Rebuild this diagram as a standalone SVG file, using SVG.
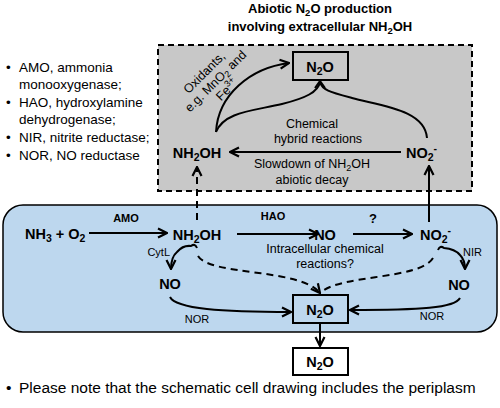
<svg xmlns="http://www.w3.org/2000/svg" width="500" height="408" viewBox="0 0 500 408">
<style>
text{font-family:"Liberation Sans",Arial,sans-serif;fill:#000}
.b{font-weight:bold}
.lbl{font-size:14.5px;font-weight:bold}
.sm{font-size:11px}
.body{font-size:12.5px}
.list{font-size:13.5px}
.ln{fill:none;stroke:#000;stroke-width:2}
.dash{stroke-dasharray:7 5}
.box{fill:none;stroke:#000;stroke-width:2}
</style>
<defs>
<marker id="ah" viewBox="0 0 12 12" refX="11" refY="6" markerWidth="12" markerHeight="12" markerUnits="userSpaceOnUse" orient="auto">
<path d="M2,1.5 L11,6 L2,10.5" fill="none" stroke="#000" stroke-width="2.2"/>
</marker>
</defs>
<rect width="500" height="408" fill="#fff"/>

<g id="title">
<text class="b" x="320" y="13" text-anchor="middle" font-size="13">Abiotic N<tspan font-size="9.5" dy="3">2</tspan><tspan dy="-3">O production</tspan></text>
<text class="b" x="320" y="31" text-anchor="middle" font-size="13">involving extracellular NH<tspan font-size="9.5" dy="3">2</tspan><tspan dy="-3">OH</tspan></text>
</g>

<g id="legend" class="list">
<text x="6" y="72">•</text><text x="19" y="72" class="list">AMO, ammonia</text>
<text x="19" y="89" class="list">monooxygenase;</text>
<text x="6" y="107">•</text><text x="19" y="107" class="list">HAO, hydroxylamine</text>
<text x="19" y="124" class="list">dehydrogenase;</text>
<text x="6" y="142">•</text><text x="19" y="142" class="list">NIR, nitrite reductase;</text>
<text x="6" y="160">•</text><text x="19" y="160" class="list">NOR, NO reductase</text>
</g>

<g id="abiotic-zone">
<rect x="158" y="45" width="314" height="146" fill="#c8c8c8" stroke="#000" stroke-width="2" stroke-dasharray="6 4"/>
</g>

<g id="cell">
<rect x="3" y="205" width="494" height="127" rx="20" ry="20" fill="#bdd7ee" stroke="#000" stroke-width="1.5"/>
</g>

<g id="connectors">
<path class="ln" d="M216,132 C218,95 250,68 289,63" marker-end="url(#ah)"/>
<path class="ln" d="M216,132 C224,112 252,111 282,104 C306,98 318,92 320,82"/>
<path class="ln" d="M427,138 C425,110 382,106 352,98 C330,92 322,90 320,82"/>
<path class="ln" d="M315,88 L320,81 L325,88"/>
<path class="ln" d="M401,152 L230,152" marker-end="url(#ah)"/>
<path class="ln" d="M429,222 L429,166" marker-end="url(#ah)"/>
<path class="ln dash" d="M197,220 L197,167" marker-end="url(#ah)"/>
<path class="ln" d="M89,233 L167,233" marker-end="url(#ah)"/>
<path class="ln" d="M237,234 L318,234" marker-end="url(#ah)"/>
<path class="ln" d="M353,234 L412,234" marker-end="url(#ah)"/>
<path class="ln" d="M197,248 Q195,243 191,246 Q183,245 177,252 Q171,257 171,269" marker-end="url(#ah)"/>
<path class="ln" d="M438,250 Q440,245 444,248 Q455,249 460,255 Q465,260 465,269" marker-end="url(#ah)"/>
<path class="ln dash" d="M198,256 C210,276 300,268 320,293" marker-end="url(#ah)"/>
<path class="ln dash" d="M433,258 C420,280 340,274 320,293"/>
<path class="ln" d="M170,297 C176,309 222,312 291,312" marker-end="url(#ah)"/>
<path class="ln" d="M460,298 C455,308 420,310 350,310" marker-end="url(#ah)"/>
<path class="ln" d="M320,323 L320,346" marker-end="url(#ah)"/>
</g>

<g id="n2o-abiotic">
<rect class="box" x="293" y="52" width="55" height="28"/>
<text class="lbl" x="320" y="72" text-anchor="middle">N<tspan font-size="10.5" dy="3">2</tspan><tspan dy="-3">O</tspan></text>
</g>
<g id="nh2oh-abiotic">
<text class="lbl" x="197" y="158" text-anchor="middle">NH<tspan font-size="10.5" dy="3">2</tspan><tspan dy="-3">OH</tspan></text>
</g>
<g id="no2-abiotic">
<text class="lbl" x="406" y="158">NO<tspan font-size="10.5" dy="3">2</tspan><tspan font-size="10.5" dy="-9">-</tspan></text>
</g>
<g id="labels-abiotic">
<text x="312" y="128" text-anchor="middle" class="body">Chemical</text>
<text x="318" y="143" text-anchor="middle" class="body">hybrid reactions</text>
<text x="312" y="168" text-anchor="middle" class="body">Slowdown of NH<tspan font-size="9" dy="3">2</tspan><tspan dy="-3">OH</tspan></text>
<text x="312" y="184" text-anchor="middle" class="body">abiotic decay</text>
<text transform="rotate(-45)" text-anchor="middle" font-size="12.5"><tspan x="93" y="200">Oxidants,</tspan><tspan x="95" y="214">e.g. MnO<tspan font-size="9" dy="2.5">2</tspan><tspan dy="-2.5"> and</tspan></tspan><tspan x="97" y="228">Fe<tspan font-size="9" dy="-5">3+</tspan></tspan></text>
</g>

<g id="nh3">
<text class="lbl" x="25" y="239">NH<tspan font-size="10.5" dy="3">3</tspan><tspan dy="-3"> + O</tspan><tspan font-size="10.5" dy="3">2</tspan></text>
</g>
<g id="nh2oh-cell">
<text class="lbl" x="197" y="240" text-anchor="middle">NH<tspan font-size="10.5" dy="3">2</tspan><tspan dy="-3">OH</tspan></text>
</g>
<g id="no-cell">
<text class="lbl" x="325" y="240" text-anchor="middle">NO</text>
</g>
<g id="no2-cell">
<text class="lbl" x="420" y="240">NO<tspan font-size="10.5" dy="3">2</tspan><tspan font-size="10.5" dy="-9">-</tspan></text>
</g>
<g id="no-left">
<text class="lbl" x="170" y="289" text-anchor="middle">NO</text>
</g>
<g id="no-right">
<text class="lbl" x="459" y="290" text-anchor="middle">NO</text>
</g>
<g id="n2o-cell">
<rect class="box" x="293" y="295" width="55" height="28"/>
<text class="lbl" x="320" y="315" text-anchor="middle">N<tspan font-size="10.5" dy="3">2</tspan><tspan dy="-3">O</tspan></text>
</g>
<g id="n2o-out">
<rect class="box" x="293" y="348" width="55" height="27"/>
<text class="lbl" x="320" y="367" text-anchor="middle">N<tspan font-size="10.5" dy="3">2</tspan><tspan dy="-3">O</tspan></text>
</g>

<g id="cell-labels">
<text class="b sm" x="126" y="222" text-anchor="middle">AMO</text>
<text class="b sm" x="273" y="220" text-anchor="middle">HAO</text>
<text class="b" x="373" y="223" text-anchor="middle" font-size="13">?</text>
<text class="sm" x="170" y="256" text-anchor="end">CytL</text>
<text class="sm" x="463" y="256">NIR</text>
<text class="sm" x="197" y="323" text-anchor="middle">NOR</text>
<text class="sm" x="432" y="320" text-anchor="middle">NOR</text>
<text class="body" x="325" y="253" text-anchor="middle">Intracellular chemical</text>
<text class="body" x="325" y="268" text-anchor="middle">reactions?</text>
</g>

<g id="note">
<text x="6" y="393" font-size="15.5">•</text>
<text x="19" y="393" font-size="15.5">Please note that the schematic cell drawing includes the periplasm</text>
</g>
</svg>
